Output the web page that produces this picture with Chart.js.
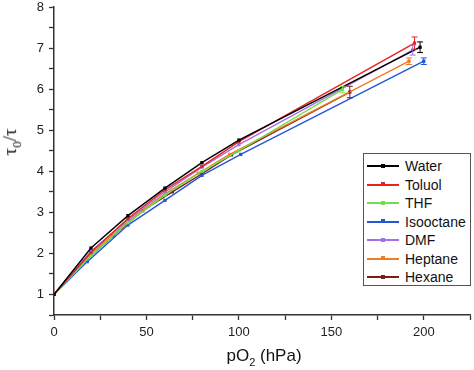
<!DOCTYPE html>
<html>
<head>
<meta charset="utf-8">
<script src="https://cdn.jsdelivr.net/npm/chart.js@4"></script>
<style>
  body { margin: 0; background: #fff; }
  #wrap { position: relative; width: 474px; height: 370px; font-family: "Liberation Sans", Arial, sans-serif; }
  #ytitle { position: absolute; left: 12px; top: 142px; transform: translate(-50%, -50%) rotate(-90deg);
            font-family: "Liberation Serif", "DejaVu Serif", serif; font-size: 19px; color: #111; white-space: nowrap; }
  #ytitle sub { font-size: 13px; }
  #xtitle { position: absolute; left: 264px; top: 357px; transform: translate(-50%, -50%);
            font-size: 17px; color: #111; white-space: nowrap; }
  #xtitle sub { font-size: 11px; }
  #legend { position: absolute; left: 363px; top: 153px; width: 108px; height: 133px; border: 1px solid #555;
            background: #fff; box-sizing: border-box; padding-top: 3px; }
  .row { height: 18.5px; display: flex; align-items: center; font-size: 14px; color: #111; }
  .sw { position: relative; width: 32px; height: 2px; margin-left: 3px; margin-right: 6px; }
  .sw i { position: absolute; left: 14px; top: -1.5px; width: 4px; height: 4px; }
</style>
</head>
<body>
<div id="wrap">
  <canvas id="chart"></canvas>
  <div id="ytitle">τ<sub>0</sub>/τ</div>
  <div id="xtitle">pO<sub>2</sub> (hPa)</div>
  <div id="legend"></div>
</div>
<script>
const seriesNames = ["Water", "Toluol", "THF", "Isooctane", "DMF", "Heptane", "Hexane"];
const seriesColors = ["#000000", "#e8231f", "#6fe04a", "#2356d8", "#a56ee6", "#f07b27", "#7b1b1b"];

const waterX = [0, 20, 40, 60, 80, 100, 198];
const waterY = [1, 2.13, 2.92, 3.59, 4.21, 4.76, 7.02];
const toluolX = [0, 20, 40, 60, 80, 100, 195];
const toluolY = [1, 2.02, 2.85, 3.55, 4.12, 4.72, 7.12];
const thfX = [0, 20, 40, 60, 80, 100, 156];
const thfY = [1, 1.95, 2.75, 3.42, 4.0, 4.5, 5.99];
const isooctaneX = [0, 18, 40, 60, 80, 101, 200];
const isooctaneY = [1, 1.8, 2.69, 3.29, 3.9, 4.41, 6.68];
const dmfX = [0, 20, 40, 60, 80, 100, 194];
const dmfY = [1, 2.05, 2.82, 3.5, 4.1, 4.65, 6.95];
const heptaneX = [0, 20, 40, 60, 78, 95, 192];
const heptaneY = [1, 1.98, 2.78, 3.45, 3.95, 4.41, 6.68];
const hexaneX = [0, 16, 32, 48, 64, 80, 96, 160];
const hexaneY = [1, 1.79, 2.43, 3.04, 3.5, 3.94, 4.4, 5.93];

// error at the last point of each series
const lastErrors = [0.13, 0.15, 0.08, 0.08, 0.12, 0.08, 0.14];

const xValues = [waterX, toluolX, thfX, isooctaneX, dmfX, heptaneX, hexaneX];
const yValues = [waterY, toluolY, thfY, isooctaneY, dmfY, heptaneY, hexaneY];

const datasets = seriesNames.map((name, i) => ({
    label: name,
    data: xValues[i].map((x, j) => ({ x: x, y: yValues[i][j] })),
    borderColor: seriesColors[i],
    backgroundColor: seriesColors[i],
    borderWidth: 1.4,
    pointStyle: 'rect',
    pointRadius: 2.3,
    pointBorderWidth: 0,
    tension: 0
}));

const errorBars = {
    id: 'errorBars',
    afterDatasetsDraw(chart) {
        const ctx = chart.ctx;
        const xs = chart.scales.x, ys = chart.scales.y;
        chart.data.datasets.forEach((ds, i) => {
            const p = ds.data[ds.data.length - 1];
            const px = xs.getPixelForValue(p.x);
            const top = ys.getPixelForValue(p.y + lastErrors[i]);
            const bot = ys.getPixelForValue(p.y - lastErrors[i]);
            ctx.save();
            ctx.strokeStyle = ds.borderColor;
            ctx.lineWidth = 1;
            ctx.beginPath();
            ctx.moveTo(px, top); ctx.lineTo(px, bot);
            ctx.moveTo(px - 3, top); ctx.lineTo(px + 3, top);
            ctx.moveTo(px - 3, bot); ctx.lineTo(px + 3, bot);
            ctx.stroke();
            ctx.restore();
        });
    }
};

new Chart(document.getElementById('chart'), {
    type: 'line',
    data: { datasets: datasets },
    plugins: [errorBars],
    options: {
        responsive: true,
        maintainAspectRatio: false,
        animation: false,
        layout: { padding: { top: 7, right: 0, left: 0, bottom: 0 } },
        plugins: { legend: { display: false }, tooltip: { enabled: false } },
        scales: {
            x: {
                type: 'linear',
                min: 0,
                max: 225,
                afterFit: s => { s.height = 55; s.paddingRight = 0; },
                ticks: {
                    stepSize: 25,
                    autoSkip: false,
                    maxRotation: 0,
                    padding: 5,
                    color: '#222',
                    font: { family: 'Liberation Sans', size: 13 },
                    callback: v => (v % 50 === 0 ? v : '')
                },
                grid: { drawOnChartArea: false, drawTicks: true, tickLength: 5, tickColor: '#333', tickWidth: 1.3 },
                border: { color: '#333', width: 1.5 }
            },
            y: {
                min: 0.5,
                max: 8,
                afterFit: s => { s.width = 54; s.paddingTop = 0; },
                ticks: {
                    stepSize: 0.5,
                    autoSkip: false,
                    padding: 5,
                    color: '#222',
                    font: { family: 'Liberation Sans', size: 13 },
                    callback: v => (Number.isInteger(v) ? v : '')
                },
                grid: { drawOnChartArea: false, drawTicks: true, tickLength: 5, tickColor: '#333', tickWidth: 1.3 },
                border: { color: '#333', width: 1.5 }
            }
        }
    }
});

const legend = document.getElementById('legend');
seriesNames.forEach((name, i) => {
    const row = document.createElement('div');
    row.className = 'row';
    row.innerHTML = '<span class="sw" style="background:' + seriesColors[i] + '"><i style="background:' +
        seriesColors[i] + '"></i></span>' + name;
    legend.appendChild(row);
});
</script>
</body>
</html>
